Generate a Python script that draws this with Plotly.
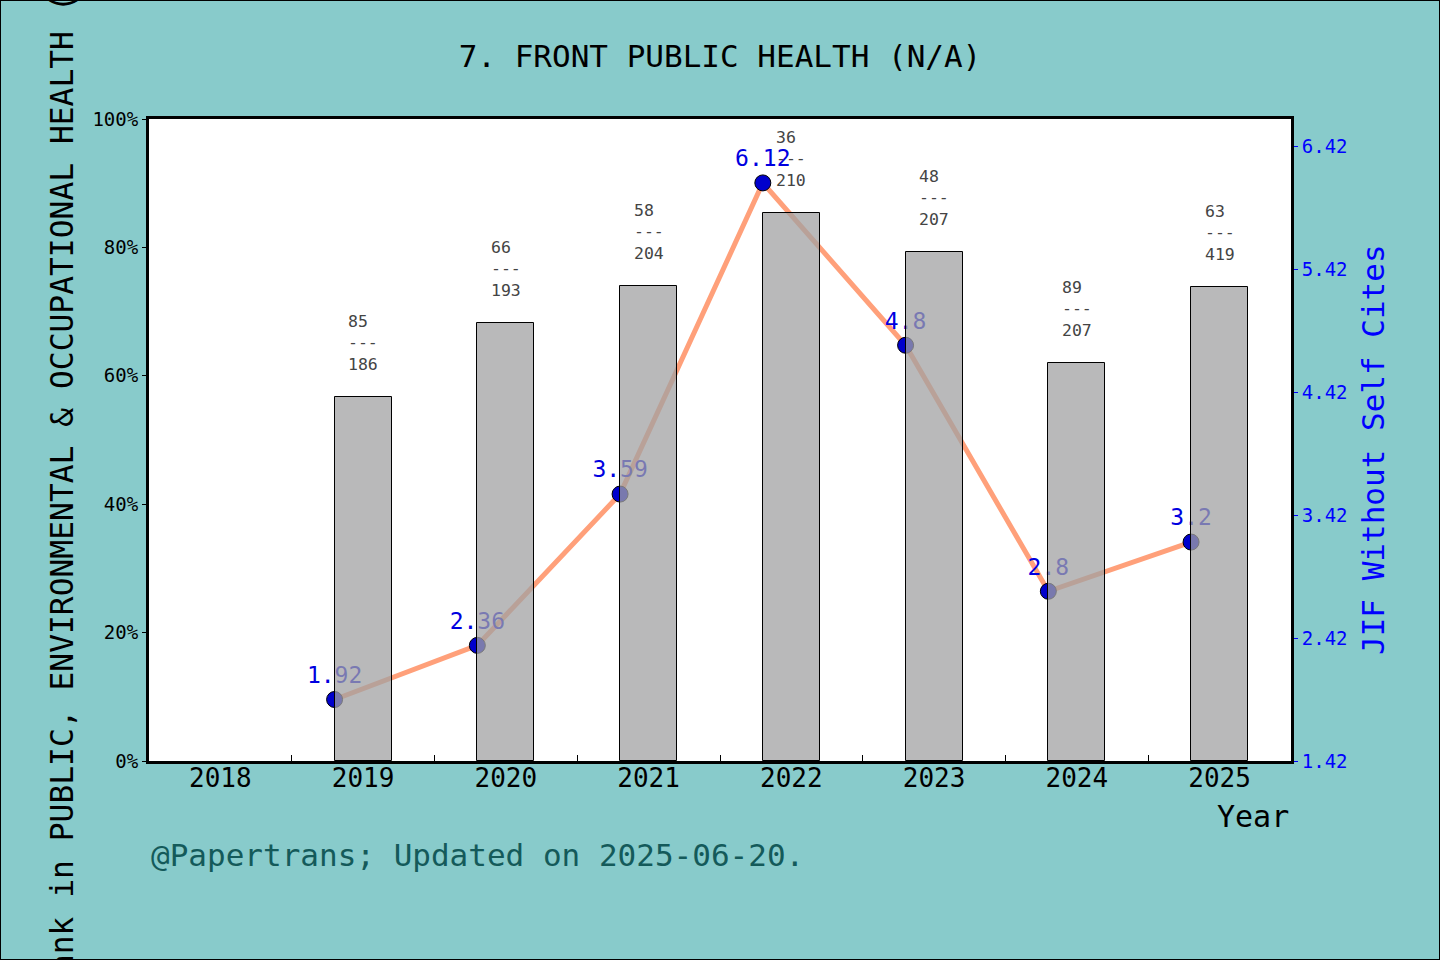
import plotly.graph_objects as go

# ---- data ----
years = ["2018", "2019", "2020", "2021", "2022", "2023", "2024", "2025"]
bar_years = ["2019", "2020", "2021", "2022", "2023", "2024", "2025"]
rank_pct = [56.7, 68.2, 74.0, 85.4, 79.3, 62.0, 73.8]
rank_pos = [85, 66, 58, 36, 48, 89, 63]
rank_total = [186, 193, 204, 210, 207, 207, 419]
jif_years = ["2019", "2020", "2021", "2022", "2023", "2024", "2025"]
jif_vals = [1.92, 2.36, 3.59, 6.12, 4.8, 2.8, 3.2]
jif_ticks = [1.42, 2.42, 3.42, 4.42, 5.42, 6.42]
pct_ticks = [0, 20, 40, 60, 80, 100]

title_text = "7. FRONT PUBLIC HEALTH (N/A)"
left_title = "Rank in PUBLIC, ENVIRONMENTAL & OCCUPATIONAL HEALTH (SSCI)"
right_title = "JIF Without Self Cites"
footer = "@Papertrans; Updated on 2025-06-20."

# ---- layout constants ----
W, H = 1440, 960
ML, MR, MT, MB = 149, 149, 119, 199
PW, PH = W - ML - MR, H - MT - MB
MONO = "DejaVu Sans Mono"
BG = "#88CBCB"
BAR_W = 0.4

idx = {y: i for i, y in enumerate(years)}
bar_x = [idx[y] for y in bar_years]
line_x = [idx[y] - BAR_W / 2 for y in jif_years]

fig = go.Figure()

# JIF line (primary y, drawn underneath)
fig.add_trace(go.Scatter(
    x=line_x, y=jif_vals, xaxis="x", yaxis="y",
    mode="lines+markers+text",
    text=[str(v) for v in jif_vals],
    textposition="top center",
    textfont=dict(family=MONO, size=23, color="#0000E0"),
    line=dict(color="#FFA07A", width=5),
    marker=dict(size=16, color="#0000CD", line=dict(color="black", width=1)),
    showlegend=False, cliponaxis=False,
))

# Rank bars (overlaying y2, drawn on top)
fig.add_trace(go.Bar(
    x=bar_x, y=rank_pct, xaxis="x", yaxis="y2",
    width=BAR_W,
    marker=dict(color="rgba(161,162,163,0.75)", line=dict(color="black", width=1)),
    showlegend=False,
))

annotations = []
for x, p, r, t in zip(bar_x, rank_pct, rank_pos, rank_total):
    annotations.append(dict(
        x=x, y=p, xref="x", yref="y2", xanchor="center", yanchor="bottom",
        yshift=21, showarrow=False, align="left",
        text=f"{r}<br>---<br>{t}",
        font=dict(family=MONO, size=16.5, color="#444444"),
    ))

def px_x(px):
    return (px - ML) / PW

def px_y(py):
    return (H - MB - py) / PH

annotations += [
    dict(x=px_x(62), y=px_y(446), xref="paper", yref="paper", text=left_title,
         textangle=-90, showarrow=False, xanchor="center", yanchor="middle",
         font=dict(family=MONO, size=31.3, color="black")),
    dict(x=px_x(1373), y=px_y(450), xref="paper", yref="paper", text=right_title,
         textangle=-90, showarrow=False, xanchor="center", yanchor="middle",
         font=dict(family=MONO, size=31, color="#0000FF")),
    dict(x=1.0, y=px_y(816), xref="paper", yref="paper", text="Year",
         showarrow=False, xanchor="right", yanchor="middle",
         font=dict(family=MONO, size=30, color="black")),
    dict(x=0.0, y=px_y(855), xref="paper", yref="paper", text=footer,
         showarrow=False, xanchor="left", yanchor="middle",
         font=dict(family=MONO, size=31, color="#145A5A")),
]

fig.update_layout(
    width=W, height=H, autosize=False,
    margin=dict(l=ML, r=MR, t=MT, b=MB, pad=0),
    paper_bgcolor=BG, plot_bgcolor="white",
    title=dict(text=title_text, x=0.5, xanchor="center", y=1 - 56 / H,
               yanchor="middle", font=dict(family=MONO, size=31, color="black")),
    xaxis=dict(
        range=[-0.5, len(years) - 0.5], tickmode="array",
        tickvals=list(range(len(years))), ticktext=years, ticks="",
        tickfont=dict(family=MONO, size=26, color="black"),
        ticklabelstandoff=-8,
        showgrid=False, zeroline=False,
        showline=True, linecolor="black", linewidth=3, mirror=True,
        minor=dict(tickmode="array", tickvals=[i + 0.5 for i in range(len(years) - 1)],
                   ticks="inside", ticklen=6, tickcolor="black", tickwidth=1, showgrid=False),
    ),
    yaxis=dict(
        side="right", range=[1.42, 1.42 + 5 * PH / 615],
        tickmode="array", tickvals=jif_ticks, ticktext=[f"{v:.2f}" for v in jif_ticks],
        ticks="outside", ticklen=4, tickcolor="#0000FF",
        tickfont=dict(family=MONO, size=19, color="#0000FF"),
        showgrid=False, zeroline=False,
        showline=True, linecolor="black", linewidth=3, mirror=True,
    ),
    yaxis2=dict(
        overlaying="y", side="left", range=[0, 100],
        tickmode="array", tickvals=pct_ticks, ticktext=[f"{v}%" for v in pct_ticks],
        ticks="outside", ticklen=6, tickcolor="black",
        tickfont=dict(family=MONO, size=19, color="black"),
        showgrid=False, zeroline=False, showline=False,
    ),
    annotations=annotations,
    shapes=[dict(type="rect", xref="paper", yref="paper",
                 x0=-ML / PW, x1=1 + MR / PW, y0=-MB / PH, y1=1 + MT / PH,
                 line=dict(color="black", width=2), layer="above")],
    bargap=0,
)

fig.write_html("out.html")
